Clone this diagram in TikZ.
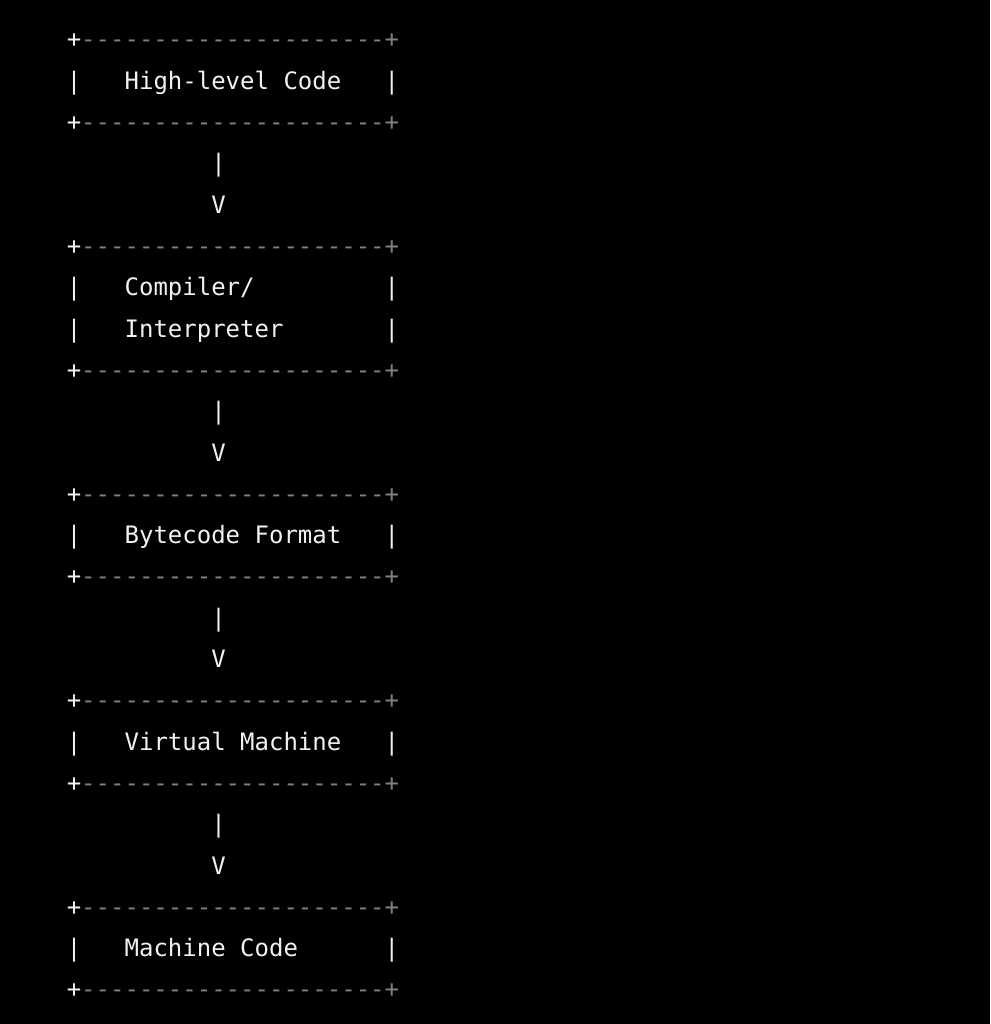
\documentclass[tikz,border=0pt]{standalone}
\usepackage{fontspec}
\setmonofont{DejaVu Sans Mono}
\definecolor{fg}{HTML}{F2F2F2}
\definecolor{dim}{HTML}{808080}
\newcommand{\cx}[1]{66.8+#1*14.4514}
\newcommand{\ry}[1]{-(48+#1*41.3)}
\tikzset{
  asc/.style={anchor=base west, inner sep=0pt, outer sep=0pt, text=fg,
    font=\ttfamily\fontsize{24}{24}\selectfont},
}
\newcommand{\borderline}{{\color{fg}+}{\color{dim}---------------------+}}
\begin{document}
\begin{tikzpicture}[x=1pt,y=1pt]
\fill[black] (0,0) rectangle (990,-1024);
\useasboundingbox (0,0) rectangle (990,-1024);
% borders
\foreach \r/\n in {0/b0,2/b1,5/b2,8/b3,11/b4,13/b5,16/b6,18/b7,21/b8,23/b9}{
  \node[asc] (\n) at ({\cx{0}},{\ry{\r}}) {\borderline};
}
% box sides
\foreach \r/\n in {1/s1,6/s2,7/s3,12/s4,17/s5,22/s6}{
  \node[asc] (\n l) at ({\cx{0}},{\ry{\r}}) {|};
  \node[asc] (\n r) at ({\cx{22}},{\ry{\r}}) {|};
}
% texts
\node[asc] (t1) at ({\cx{4}},{\ry{1}}) {High-level Code};
\node[asc] (t2) at ({\cx{4}},{\ry{6}}) {Compiler/};
\node[asc] (t3) at ({\cx{4}},{\ry{7}}) {Interpreter};
\node[asc] (t4) at ({\cx{4}},{\ry{12}}) {Bytecode Format};
\node[asc] (t5) at ({\cx{4}},{\ry{17}}) {Virtual Machine};
\node[asc] (t6) at ({\cx{4}},{\ry{22}}) {Machine Code};
% arrows
\foreach \r/\n in {3/a1,9/a2,14/a3,19/a4}{
  \node[asc] (\n s) at ({\cx{10}},{\ry{\r}}) {|};
}
\foreach \r/\n in {4/v1,10/v2,15/v3,20/v4}{
  \node[asc] (\n) at ({\cx{10}},{\ry{\r}}) {V};
}
\end{tikzpicture}
\end{document}
